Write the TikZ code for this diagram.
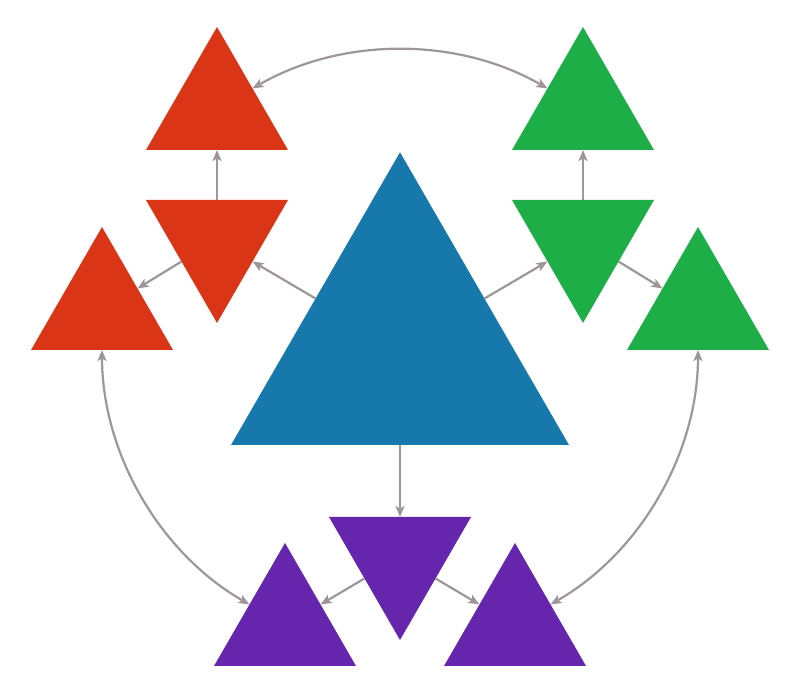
\documentclass[tikz,border=0pt]{standalone}
\usepackage{tikz}
\usetikzlibrary{arrows.meta}
\usetikzlibrary{shapes.geometric}

\definecolor{triRed}{RGB}{217,53,22}
\definecolor{triGreen}{RGB}{30,174,72}
\definecolor{triBlue}{RGB}{23,120,172}
\definecolor{triPurple}{RGB}{101,37,173}
\definecolor{linkGrey}{RGB}{158,150,153}

\begin{document}
\begin{tikzpicture}[x=1pt,y=1pt,->,>={Stealth[length=11pt,width=9pt,inset=2.5pt]}]
  \tikzset{tri/.style={regular polygon,regular polygon sides=3,inner sep=0pt,outer sep=0pt,minimum size=164pt}}
  \tikzset{inv/.style={tri,shape border rotate=180}}
  \tikzset{every edge/.style={draw=linkGrey,line width=2.2pt}}

  \useasboundingbox (0,0) rectangle (800,693);

  \node[tri,fill=triBlue,minimum size=390pt] (blue) at (400,345.7) {};

  \node[tri,fill=triRed] (rtop) at (217,584) {};
  \node[inv,fill=triRed] (rinv) at (217,452) {};
  \node[tri,fill=triRed] (rleft) at (102,384) {};

  \node[tri,fill=triGreen] (gtop) at (583,584) {};
  \node[inv,fill=triGreen] (ginv) at (583,452) {};
  \node[tri,fill=triGreen] (gright) at (698,384) {};

  \node[inv,fill=triPurple] (pinv) at (400,135) {};
  \node[tri,fill=triPurple] (pleft) at (285,68) {};
  \node[tri,fill=triPurple] (pright) at (515,68) {};

  \path (blue.side 1) edge (rinv.side 1)
        (rinv.side 3) edge (rleft.side 3)
        (rinv.side 2) edge (rtop.side 2)
        (blue.side 3) edge (ginv.side 3)
        (ginv.side 1) edge (gright.side 1)
        (ginv.side 2) edge (gtop.side 2)
        (blue.side 2) edge (pinv.side 2)
        (pinv.side 3) edge (pleft.side 3)
        (pinv.side 1) edge (pright.side 1);

  \path[looseness=0.9] (rtop.side 3) edge[<->,bend left=30] (gtop.side 1)
        (rleft.side 2) edge[<->,bend right=30] (pleft.side 1)
        (gright.side 2) edge[<->,bend left=30] (pright.side 3);
\end{tikzpicture}
\end{document}
